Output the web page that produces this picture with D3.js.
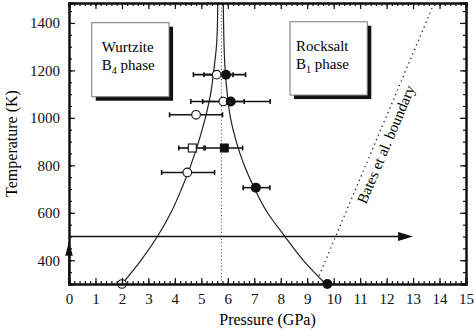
<!DOCTYPE html>
<html>
<head>
<meta charset="utf-8">
<script src="https://cdn.jsdelivr.net/npm/d3@7"></script>
<style>
  body { margin: 0; background: #fff; }
  svg { font-family: "Liberation Serif", "Times New Roman", serif; }
</style>
</head>
<body>
<div id="chart"></div>
<script>
// axis ticks
const pressureTicks = [0, 1, 2, 3, 4, 5, 6, 7, 8, 9, 10, 11, 12, 13, 14, 15];
const tempTicks = [400, 600, 800, 1000, 1200, 1400];

// phase boundary curves [pressure GPa, temperature K]
const leftBoundary = [[2.0, 300], [2.72, 400], [3.34, 500], [3.85, 600], [4.25, 700], [4.6, 800],
    [4.9, 900], [5.15, 1000], [5.35, 1100], [5.47, 1200], [5.57, 1300], [5.61, 1400], [5.62, 1484]];
const rightBoundary = [[9.7, 300], [8.85, 400], [8.16, 500], [7.5, 600], [7.02, 700], [6.62, 800],
    [6.32, 900], [6.1, 1000], [5.98, 1100], [5.9, 1200], [5.86, 1300], [5.84, 1400], [5.83, 1484]];
const batesBoundary = [[9.45, 335], [13.8, 1484]];
const midPressure = 5.76;

// measurements: pressure, temperature, error low, error high
const openCircles = [[5.58, 1182, 4.7, 6.2], [5.83, 1069, 4.6, 6.62], [4.8, 1013, 3.8, 5.8], [4.47, 770, 3.5, 5.5], [2.0, 300, null, null]];
const filledCircles = [[5.93, 1182, 5.1, 6.67], [6.11, 1069, 5.05, 7.6], [7.06, 706, 6.58, 7.59], [9.76, 300, null, null]];
const openSquares = [[4.66, 873, 4.15, 5.1]];
const filledSquares = [[5.87, 873, 5.15, 6.56]];

// heating path arrows
const upArrow = [[0, 300], [0, 478]];
const rightArrow = [[0, 500], [13, 500]];

const W = 474, H = 331;
const margin = { top: 3, right: 8, bottom: 47, left: 69 };
const width = W - margin.left - margin.right;
const height = H - margin.top - margin.bottom;

const svg = d3.select("#chart").append("svg")
    .attr("width", W)
    .attr("height", H)
    .append("g")
    .attr("transform", `translate(${margin.left},${margin.top})`);

const x = d3.scaleLinear().domain([0, 15]).range([0, width]);
const y = d3.scaleLinear().domain([300, 1484]).range([height, 0]);

// phase boxes with drop shadow
function phaseBox(p0, t0, p1, t1, line1, sub, pad) {
    const bx = x(p0), by = y(t0), bw = x(p1) - x(p0), bh = y(t1) - y(t0);
    svg.append("rect").attr("x", bx + 4).attr("y", by + 4).attr("width", bw).attr("height", bh).attr("fill", "#111");
    svg.append("rect").attr("x", bx).attr("y", by).attr("width", bw).attr("height", bh)
        .attr("fill", "#fff").attr("stroke", "#777").attr("stroke-width", 1);
    svg.append("text").attr("x", bx + pad).attr("y", by + 29).style("font-size", "15px").text(line1);
    const t = svg.append("text").attr("x", bx + pad).attr("y", by + 47).style("font-size", "15px");
    t.append("tspan").text("B");
    t.append("tspan").attr("dy", 4).style("font-size", "10px").text(sub);
    t.append("tspan").attr("dy", -4).text(" phase");
}
phaseBox(0.86, 1401, 3.78, 1089, "Wurtzite", "4", 10);
phaseBox(8.35, 1405, 11.27, 1096, "Rocksalt", "1", 6);

// dotted vertical at mid pressure
svg.append("line")
    .attr("x1", x(midPressure)).attr("x2", x(midPressure))
    .attr("y1", y(300)).attr("y2", y(1484))
    .attr("stroke", "#555").attr("stroke-width", 1.2).attr("stroke-dasharray", "1,2.4");

// Bates boundary
svg.append("line")
    .attr("x1", x(batesBoundary[0][0])).attr("y1", y(batesBoundary[0][1]))
    .attr("x2", x(batesBoundary[1][0])).attr("y2", y(batesBoundary[1][1]))
    .attr("stroke", "#222").attr("stroke-width", 1.3).attr("stroke-dasharray", "1.3,3.6");

const ang = Math.atan2(y(batesBoundary[1][1]) - y(batesBoundary[0][1]),
    x(batesBoundary[1][0]) - x(batesBoundary[0][0])) * 180 / Math.PI;
svg.append("text")
    .attr("transform", `translate(${x(12.15)},${y(880)}) rotate(${ang})`)
    .attr("text-anchor", "middle")
    .style("font-size", "15px")
    .text("Bates et al. boundary");

// boundary curves
const line = d3.line()
    .x(d => x(d[0]))
    .y(d => y(d[1]))
    .curve(d3.curveMonotoneY);

[leftBoundary, rightBoundary].forEach(b => {
    svg.append("path").datum(b)
        .attr("fill", "none").attr("stroke", "#222").attr("stroke-width", 1.2)
        .attr("d", line);
});

// arrows
function arrow(pts, len, half) {
    const x1 = x(pts[0][0]), y1 = y(pts[0][1]), x2 = x(pts[1][0]), y2 = y(pts[1][1]);
    const a = Math.atan2(y2 - y1, x2 - x1);
    const bx = x2 - len * Math.cos(a), by = y2 - len * Math.sin(a);
    svg.append("line").attr("x1", x1).attr("y1", y1).attr("x2", bx).attr("y2", by)
        .attr("stroke", "#111").attr("stroke-width", 1.6);
    svg.append("path")
        .attr("d", `M${x2},${y2}L${bx - half * Math.sin(a)},${by + half * Math.cos(a)}L${bx + half * Math.sin(a)},${by - half * Math.cos(a)}Z`)
        .attr("fill", "#111");
}
arrow(rightArrow, 15, 4.5);
arrow(upArrow, 14, 3.8);

// error bars
const allPoints = [].concat(openCircles, filledCircles, openSquares, filledSquares).filter(d => d[2] !== null);
allPoints.forEach(d => {
    const g = svg.append("g").attr("stroke", "#111").attr("stroke-width", 1.6);
    g.append("line").attr("x1", x(d[2])).attr("x2", x(d[3])).attr("y1", y(d[1])).attr("y2", y(d[1]));
    [d[2], d[3]].forEach(v => {
        g.append("line").attr("x1", x(v)).attr("x2", x(v)).attr("y1", y(d[1]) - 2.5).attr("y2", y(d[1]) + 2.5);
    });
});

// markers
svg.selectAll(".oc").data(openCircles).enter().append("circle")
    .attr("cx", d => x(d[0])).attr("cy", d => y(d[1])).attr("r", 4.3)
    .attr("fill", "#fff").attr("stroke", "#111").attr("stroke-width", 1.1);
svg.selectAll(".fc").data(filledCircles).enter().append("circle")
    .attr("cx", d => x(d[0])).attr("cy", d => y(d[1])).attr("r", 5)
    .attr("fill", "#111");
svg.selectAll(".os").data(openSquares).enter().append("rect")
    .attr("x", d => x(d[0]) - 4).attr("y", d => y(d[1]) - 4).attr("width", 8).attr("height", 8)
    .attr("fill", "#fff").attr("stroke", "#111").attr("stroke-width", 1.1);
svg.selectAll(".fs").data(filledSquares).enter().append("rect")
    .attr("x", d => x(d[0]) - 4.5).attr("y", d => y(d[1]) - 4.5).attr("width", 9).attr("height", 9)
    .attr("fill", "#111");

// axes, ticks pointing inward
const minorP = d3.range(0, 15.01, 0.2);
const minorT = d3.range(300, 1484, 50);

function styleAxis(g) {
    g.select(".domain").attr("stroke", "#111").attr("stroke-width", 2);
    g.selectAll(".tick line").attr("stroke", "#111").attr("stroke-width", 1.2);
    g.selectAll("text").style("font-family", "Liberation Serif").style("font-size", "15px").attr("fill", "#111");
}

svg.append("g").attr("transform", `translate(0,${height})`)
    .call(d3.axisBottom(x).tickValues(minorP).tickSize(-3).tickFormat(""))
    .call(styleAxis);
svg.append("g").attr("transform", `translate(0,${height})`)
    .call(d3.axisBottom(x).tickValues(pressureTicks).tickSize(-6).tickPadding(9).tickFormat(d3.format("d")))
    .call(styleAxis);
svg.append("g")
    .call(d3.axisTop(x).tickValues(minorP).tickSize(-3).tickFormat(""))
    .call(styleAxis);
svg.append("g")
    .call(d3.axisTop(x).tickValues(pressureTicks).tickSize(-6).tickFormat(""))
    .call(styleAxis);

svg.append("g")
    .call(d3.axisLeft(y).tickValues(minorT).tickSize(-3).tickFormat(""))
    .call(styleAxis);
svg.append("g")
    .call(d3.axisLeft(y).tickValues(tempTicks).tickSize(-6).tickPadding(9).tickFormat(d3.format("d")))
    .call(styleAxis);
svg.append("g").attr("transform", `translate(${width},0)`)
    .call(d3.axisRight(y).tickValues(minorT).tickSize(-3).tickFormat(""))
    .call(styleAxis);
svg.append("g").attr("transform", `translate(${width},0)`)
    .call(d3.axisRight(y).tickValues(tempTicks).tickSize(-6).tickFormat(""))
    .call(styleAxis);

// X-axis label
svg.append("text")
    .attr("x", width / 2)
    .attr("y", height + 41)
    .attr("text-anchor", "middle")
    .style("font-size", "16px")
    .text("Pressure (GPa)");

// Y-axis label
svg.append("text")
    .attr("transform", "rotate(-90)")
    .attr("x", -height / 2)
    .attr("y", -margin.left + 17)
    .attr("text-anchor", "middle")
    .style("font-size", "16px")
    .text("Temperature (K)");
</script>
</body>
</html>
